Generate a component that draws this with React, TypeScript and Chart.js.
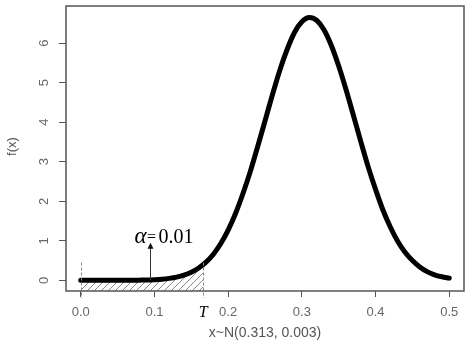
import React, { useEffect, useRef } from 'react';
import { Chart, registerables } from 'chart.js';

Chart.register(...registerables);

const xValues = [
  0, 0.01, 0.02, 0.03, 0.04, 0.05, 0.06, 0.07, 0.08, 0.09,
  0.1, 0.11, 0.12, 0.13, 0.14, 0.15, 0.16, 0.17, 0.18, 0.19,
  0.2, 0.21, 0.22, 0.23, 0.24, 0.25, 0.26, 0.27, 0.28, 0.29,
  0.3, 0.31, 0.32, 0.33, 0.34, 0.35, 0.36, 0.37, 0.38, 0.39,
  0.4, 0.41, 0.42, 0.43, 0.44, 0.45, 0.46, 0.47, 0.48, 0.49, 0.5,
];
const densityValues = [
  0, 0, 0, 0, 0, 0, 0, 0.002, 0.005, 0.009,
  0.017, 0.029, 0.05, 0.082, 0.131, 0.205, 0.311, 0.46, 0.66, 0.93,
  1.27, 1.69, 2.19, 2.75, 3.38, 4.03, 4.69, 5.31, 5.84, 6.27,
  6.54, 6.65, 6.58, 6.34, 5.94, 5.42, 4.82, 4.17, 3.51, 2.87,
  2.3, 1.78, 1.35, 0.99, 0.71, 0.5, 0.34, 0.22, 0.14, 0.09, 0.055,
];
const xTickValues = [0, 0.1, 0.2, 0.3, 0.4, 0.5];
const yTickValues = [0, 1, 2, 3, 4, 5, 6];
const thresholdT = 0.166;
const densityAtT = 0.39;
const alphaX = 0.094;
const alphaTipY = 0.95;
const guideTopY = 0.45;
const xTitle = 'x~N(0.313, 0.003)';
const yTitle = 'f(x)';
const alphaSymbol = 'α';
const alphaValue = '0.01';
const thresholdLabel = 'T';

const SANS = '"Liberation Sans", Arial, sans-serif';
const SERIF = '"Liberation Serif", "Times New Roman", serif';

const decorPlugin = {
  id: 'decor',
  afterDraw(chart: any) {
    const { ctx, chartArea: a, scales } = chart;
    const x = scales.x;
    const y = scales.y;
    ctx.save();

    // dashed guides at 0 and T
    ctx.strokeStyle = '#888';
    ctx.lineWidth = 1;
    ctx.setLineDash([3, 2]);
    for (const xv of [0, thresholdT]) {
      const px = Math.round(x.getPixelForValue(xv)) + 0.5;
      ctx.beginPath();
      ctx.moveTo(px, y.getPixelForValue(guideTopY));
      ctx.lineTo(px, a.bottom + 7);
      ctx.stroke();
    }
    ctx.setLineDash([]);

    // box
    ctx.strokeStyle = '#555';
    ctx.lineWidth = 1.5;
    ctx.strokeRect(a.left, a.top, a.right - a.left, a.bottom - a.top);

    // y tick labels (rotated)
    ctx.fillStyle = '#666';
    ctx.font = `13px ${SANS}`;
    ctx.textAlign = 'center';
    ctx.textBaseline = 'middle';
    for (const v of yTickValues) {
      const py = y.getPixelForValue(v);
      ctx.save();
      ctx.translate(44, py);
      ctx.rotate(-Math.PI / 2);
      ctx.fillText(String(v), 0, 0);
      ctx.restore();
    }

    // y title
    ctx.save();
    ctx.font = `13px ${SANS}`;
    ctx.fillStyle = '#555';
    ctx.translate(12, (a.top + a.bottom) / 2 - 2);
    ctx.rotate(-Math.PI / 2);
    ctx.fillText(yTitle, 0, 0);
    ctx.restore();

    // alpha arrow
    const ax = Math.round(x.getPixelForValue(alphaX)) + 0.5;
    const y0 = y.getPixelForValue(0);
    const tip = y.getPixelForValue(alphaTipY);
    ctx.strokeStyle = '#333';
    ctx.lineWidth = 1;
    ctx.beginPath();
    ctx.moveTo(ax, y0);
    ctx.lineTo(ax, tip + 5);
    ctx.stroke();
    ctx.fillStyle = '#111';
    ctx.beginPath();
    ctx.moveTo(ax, tip);
    ctx.lineTo(ax - 3, tip + 6);
    ctx.lineTo(ax + 3, tip + 6);
    ctx.closePath();
    ctx.fill();

    ctx.fillStyle = '#000';
    ctx.textBaseline = 'alphabetic';
    ctx.font = `italic 23px ${SERIF}`;
    ctx.textAlign = 'right';
    ctx.fillText(alphaSymbol, ax - 4, tip);
    ctx.font = `16px ${SERIF}`;
    ctx.textAlign = 'center';
    ctx.fillText('=', ax + 1, tip - 1);
    ctx.font = `20px ${SERIF}`;
    ctx.textAlign = 'left';
    ctx.fillText(alphaValue, ax + 8, tip);

    // T label
    ctx.font = `italic 16px ${SERIF}`;
    ctx.textAlign = 'center';
    ctx.textBaseline = 'middle';
    ctx.fillText(thresholdLabel, x.getPixelForValue(thresholdT), a.bottom + 22);

    ctx.restore();
  },
};

function makeHatch(): CanvasPattern | string {
  const c = document.createElement('canvas');
  c.width = 7;
  c.height = 7;
  const g = c.getContext('2d');
  if (!g) return '#ccc';
  g.strokeStyle = '#888';
  g.lineWidth = 1;
  g.beginPath();
  g.moveTo(0, 7);
  g.lineTo(7, 0);
  g.moveTo(-1, 1);
  g.lineTo(1, -1);
  g.moveTo(6, 8);
  g.lineTo(8, 6);
  g.stroke();
  return g.createPattern(c, 'repeat') || '#ccc';
}

export default function App() {
  const ref = useRef<HTMLCanvasElement | null>(null);

  useEffect(() => {
    document.body.style.margin = '0';
    const canvas = ref.current;
    if (!canvas) return;

    const curve = xValues.map((xv, i) => ({ x: xv, y: densityValues[i] }));
    const tail = xValues
      .map((xv, i) => ({ x: xv, y: densityValues[i] }))
      .filter((p) => p.x <= thresholdT);
    tail.push({ x: thresholdT, y: densityAtT });

    const chart = new Chart(canvas, {
      type: 'line',
      data: {
        datasets: [
          {
            data: curve,
            borderColor: '#000',
            borderWidth: 5,
            pointRadius: 0,
            cubicInterpolationMode: 'monotone',
            borderCapStyle: 'round',
            borderJoinStyle: 'round',
            fill: false,
            order: 0,
          },
          {
            data: tail,
            borderColor: 'rgba(0,0,0,0)',
            borderWidth: 0,
            pointRadius: 0,
            cubicInterpolationMode: 'monotone',
            backgroundColor: makeHatch() as any,
            fill: 'start',
            order: 1,
          },
        ],
      },
      options: {
        responsive: false,
        animation: false,
        devicePixelRatio: 1,
        layout: { padding: { left: 0, right: 10, top: 6, bottom: 5 } },
        plugins: { legend: { display: false }, tooltip: { enabled: false } },
        scales: {
          x: {
            type: 'linear',
            min: -0.02,
            max: 0.52,
            afterBuildTicks: (s: any) => {
              s.ticks = xTickValues.map((v) => ({ value: v }));
            },
            afterFit: (s: any) => {
              s.height = 55;
            },
            ticks: {
              color: '#666',
              font: { family: SANS, size: 13 },
              padding: 8,
              maxRotation: 0,
              callback: (v: any) => Number(v).toFixed(1),
            },
            grid: { display: true, drawOnChartArea: false, drawTicks: true, tickLength: 6, color: '#555' },
            border: { display: false },
            title: { display: true, text: xTitle, color: '#555', font: { family: SANS, size: 14 } },
          },
          y: {
            type: 'linear',
            min: -0.27,
            max: 6.94,
            afterBuildTicks: (s: any) => {
              s.ticks = yTickValues.map((v) => ({ value: v }));
            },
            afterFit: (s: any) => {
              s.width = 66;
            },
            ticks: { display: false },
            grid: { display: true, drawOnChartArea: false, drawTicks: true, tickLength: 7, color: '#555' },
            border: { display: false },
          },
        },
      },
      plugins: [decorPlugin],
    } as any);

    return () => chart.destroy();
  }, []);

  return <canvas ref={ref} width={474} height={351} style={{ display: 'block' }} />;
}
